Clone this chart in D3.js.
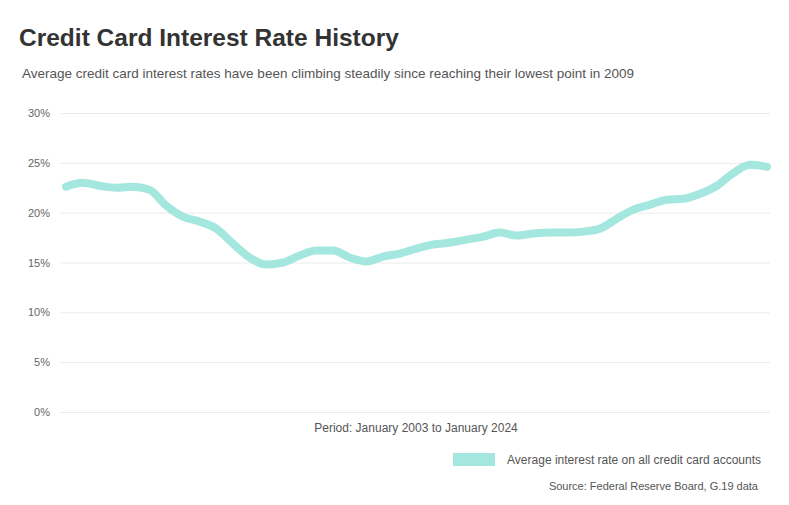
<!DOCTYPE html>
<html>
<head>
<meta charset="utf-8">
<script src="https://cdn.jsdelivr.net/npm/d3@7"></script>
<style>
  html, body { margin: 0; padding: 0; background: #fff; }
  svg { display: block; font-family: "Liberation Sans", Arial, Helvetica, sans-serif; }
</style>
</head>
<body>
<svg id="chart" width="789" height="505"></svg>
<script>
// ---- data ----
const periods = [
  "Jan 2003","Jul 2003","Jan 2004","Jul 2004","Jan 2005","Jul 2005","Jan 2006","Jul 2006",
  "Jan 2007","Jul 2007","Jan 2008","Jul 2008","Jan 2009","Jul 2009","Jan 2010","Jul 2010",
  "Jan 2011","Jul 2011","Jan 2012","Jul 2012","Jan 2013","Jul 2013","Jan 2014","Jul 2014",
  "Jan 2015","Jul 2015","Jan 2016","Jul 2016","Jan 2017","Jul 2017","Jan 2018","Jul 2018",
  "Jan 2019","Jul 2019","Jan 2020","Jul 2020","Jan 2021","Jul 2021","Jan 2022","Jul 2022",
  "Jan 2023","Jul 2023","Jan 2024"
];
const rates = [
  22.6, 23.0, 22.7, 22.5, 22.6, 22.3, 20.7, 19.6,
  19.1, 18.4, 16.9, 15.5, 14.8, 15.0, 15.7, 16.2,
  16.2, 15.5, 15.1, 15.6, 15.9, 16.4, 16.8, 17.0,
  17.3, 17.6, 18.0, 17.7, 17.9, 18.0, 18.0, 18.1,
  18.4, 19.4, 20.3, 20.8, 21.3, 21.4, 21.9, 22.7,
  24.0, 24.8, 24.6
];
const yTicks = [0, 5, 10, 15, 20, 25, 30];
const titleText = "Credit Card Interest Rate History";
const subtitleText = "Average credit card interest rates have been climbing steadily since reaching their lowest point in 2009";
const xAxisTitle = "Period: January 2003 to January 2024";
const legendLabel = "Average interest rate on all credit card accounts";
const sourceText = "Source: Federal Reserve Board, G.19 data";

// ---- layout ----
const svg = d3.select("#chart");

const x = d3.scalePoint().domain(periods).range([66, 767]);
const y = d3.scaleLinear().domain([0, 30]).range([412, 113]);

// title / subtitle
svg.append("text").attr("x", 19).attr("y", 46)
  .attr("font-size", 24.5).attr("font-weight", "bold").attr("fill", "#333")
  .text(titleText);
svg.append("text").attr("x", 22).attr("y", 78)
  .attr("font-size", 13.5).attr("fill", "#555")
  .text(subtitleText);

// y axis with gridlines
const yAxis = d3.axisLeft(y).tickValues(yTicks)
  .tickFormat(d => d + "%")
  .tickSize(-(770 - 60)).tickPadding(10);
const gy = svg.append("g").attr("transform", "translate(60,0)").call(yAxis);
gy.select(".domain").remove();
gy.selectAll(".tick line").attr("stroke", "#ebebeb").attr("stroke-width", 1);
gy.selectAll(".tick text").attr("font-size", 11).attr("fill", "#666")
  .attr("font-family", "Liberation Sans, Arial, sans-serif");

// x axis title
svg.append("text").attr("x", 416).attr("y", 432)
  .attr("text-anchor", "middle").attr("font-size", 12).attr("fill", "#555")
  .text(xAxisTitle);

// line
const line = d3.line()
  .x((d, i) => x(periods[i]))
  .y(d => y(d))
  .curve(d3.curveMonotoneX);
svg.append("path").datum(rates)
  .attr("d", line)
  .attr("fill", "none")
  .attr("stroke", "#a3e7de")
  .attr("stroke-width", 8)
  .attr("stroke-linecap", "round")
  .attr("stroke-linejoin", "round");

// legend
const lg = svg.append("g");
lg.append("rect").attr("x", 453).attr("y", 453).attr("width", 42).attr("height", 13)
  .attr("fill", "#a3e7de");
lg.append("text").attr("x", 761).attr("y", 464)
  .attr("text-anchor", "end").attr("font-size", 12).attr("fill", "#555")
  .text(legendLabel);
lg.append("text").attr("x", 758).attr("y", 490)
  .attr("text-anchor", "end").attr("font-size", 11).attr("fill", "#555")
  .text(sourceText);
</script>
</body>
</html>
